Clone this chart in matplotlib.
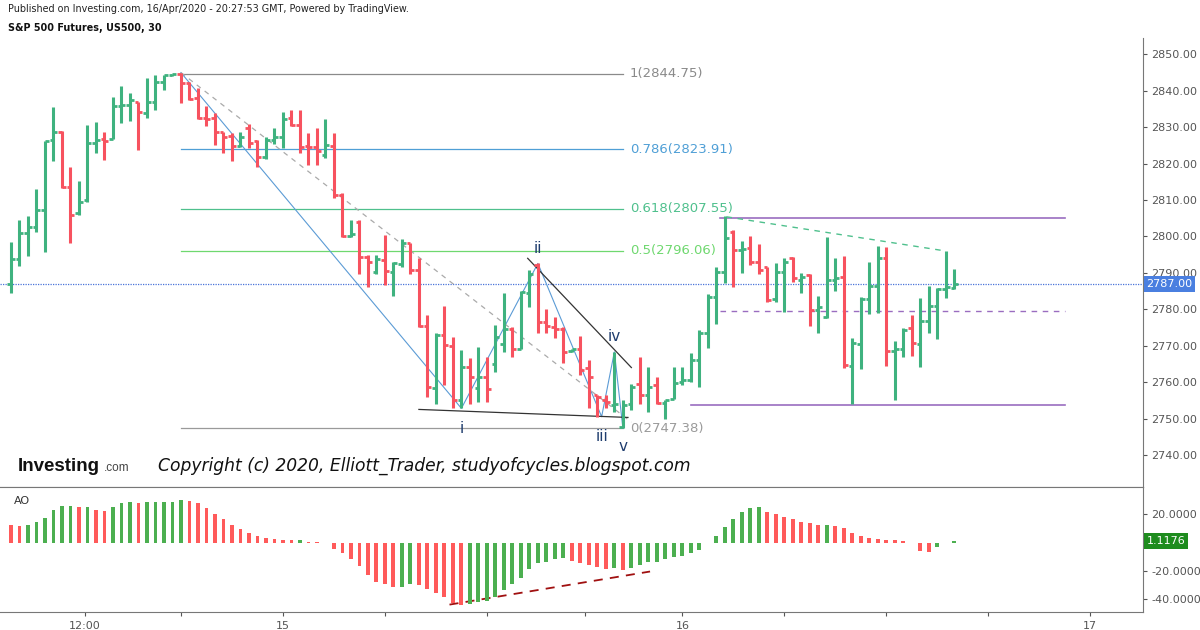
import matplotlib
matplotlib.use("Agg")
import matplotlib.pyplot as plt
import numpy as np

# ---------------- data ----------------
opens = [2787.0,2793.7,2800.9,2802.7,2807.3,2826.5,2828.8,2813.7,2806.4,2809.9,
         2825.6,2826.9,2826.7,2835.7,2836.1,2836.8,2833.8,2836.8,2842.3,2844.3,
         2844.7,2842.1,2838.0,2832.5,2832.5,2828.8,2827.6,2824.9,2829.7,2826.1,
         2821.8,2826.5,2827.4,2832.5,2830.6,2824.9,2824.5,2822.4,2824.9,2811.4,
         2800.1,2804.1,2794.4,2790.3,2793.5,2790.3,2792.4,2798.3,2790.8,2775.4,
         2758.3,2772.9,2769.9,2755.0,2764.2,2758.3,2761.5,2765.1,2770.6,2774.7,
         2769.2,2784.4,2792.2,2776.6,2775.2,2774.7,2768.6,2769.2,2763.8,2756.4,
         2755.0,2753.7,2747.7,2754.1,2759.6,2756.4,2759.2,2754.3,2755.5,2759.9,
         2760.6,2766.2,2773.4,2783.4,2790.3,2801.3,2796.3,2796.8,2793.1,2791.5,
         2782.7,2790.3,2794.0,2788.1,2789.4,2779.8,2777.8,2788.1,2789.0,2764.4,
         2770.6,2782.7,2786.4,2794.0,2768.6,2769.0,2774.8,2770.6,2776.9,2780.9,
         2785.5,2785.8]
highs = [2798.6,2804.4,2805.7,2813.0,2826.1,2835.5,2829.0,2819.0,2815.1,2830.6,
         2831.3,2828.8,2838.4,2841.4,2839.3,2836.8,2843.5,2844.4,2844.4,2844.6,
         2844.9,2842.5,2840.7,2835.7,2833.8,2828.8,2828.4,2828.8,2830.9,2826.5,
         2827.4,2829.7,2834.3,2834.8,2834.6,2828.5,2829.7,2832.2,2828.5,2812.0,
         2804.5,2804.5,2795.0,2794.9,2800.4,2793.1,2799.2,2798.3,2794.0,2778.4,
         2773.5,2780.9,2772.4,2768.8,2766.5,2769.7,2767.0,2775.7,2784.5,2775.2,
         2785.0,2790.8,2792.6,2780.2,2777.9,2775.2,2769.2,2772.6,2766.0,2756.4,
         2756.4,2768.3,2755.0,2759.6,2767.0,2764.2,2761.5,2755.0,2764.2,2764.2,
         2767.9,2774.3,2784.2,2791.7,2805.6,2801.8,2798.8,2800.1,2797.9,2791.7,
         2792.8,2794.0,2794.3,2790.1,2789.7,2783.7,2799.8,2794.0,2794.6,2772.0,
         2783.4,2793.1,2797.4,2797.2,2771.4,2775.0,2778.4,2783.0,2786.4,2785.8,
         2796.1,2791.0]
lows = [2784.4,2791.9,2794.5,2801.3,2795.8,2820.8,2813.2,2798.3,2805.9,2809.6,
        2823.0,2821.0,2826.7,2831.1,2831.6,2823.8,2832.5,2834.8,2840.1,2844.2,
        2836.6,2837.5,2832.2,2830.2,2825.1,2823.0,2820.6,2824.5,2824.2,2819.2,
        2821.2,2825.4,2824.2,2830.2,2822.9,2819.7,2819.7,2821.5,2810.5,2799.9,
        2799.9,2789.8,2786.2,2789.8,2786.7,2783.6,2791.7,2789.8,2775.2,2756.0,
        2754.1,2759.2,2752.8,2752.8,2754.1,2754.6,2754.6,2762.8,2768.3,2767.0,
        2769.2,2780.7,2773.4,2773.4,2772.0,2765.3,2768.3,2761.9,2752.8,2750.5,
        2752.8,2751.8,2747.4,2752.3,2754.1,2751.8,2754.1,2750.0,2755.5,2759.2,
        2759.9,2758.7,2769.5,2775.9,2787.3,2786.2,2789.9,2792.2,2789.7,2782.1,
        2782.1,2779.3,2787.6,2784.6,2775.4,2773.4,2777.5,2785.1,2763.8,2754.1,
        2763.5,2778.7,2779.1,2764.4,2755.1,2766.8,2767.2,2764.2,2773.6,2771.8,
        2783.0,2785.5]
closes = [2793.7,2800.9,2802.7,2807.3,2826.1,2828.8,2813.5,2805.9,2809.6,2825.6,
          2826.5,2826.3,2835.7,2836.1,2837.5,2834.3,2836.8,2842.3,2844.4,2844.5,
          2842.1,2837.7,2832.5,2832.2,2828.8,2827.4,2824.9,2827.3,2825.6,2821.9,
          2826.5,2827.4,2832.2,2830.6,2824.7,2824.5,2823.6,2825.1,2811.4,2800.1,
          2800.6,2794.4,2793.1,2793.7,2790.6,2792.6,2798.3,2790.8,2775.4,2758.7,
          2772.9,2770.2,2755.0,2764.2,2761.5,2761.5,2758.0,2772.4,2774.7,2769.2,
          2784.8,2789.8,2776.6,2775.4,2774.5,2768.4,2769.0,2763.3,2761.5,2756.0,
          2754.6,2754.1,2753.7,2758.7,2756.4,2758.7,2754.3,2755.0,2759.8,2760.6,
          2766.2,2773.4,2783.4,2790.3,2799.5,2796.3,2796.5,2793.1,2790.8,2782.6,
          2790.3,2793.1,2788.5,2789.0,2779.8,2780.5,2788.1,2788.5,2764.7,2770.8,
          2782.7,2786.4,2794.0,2768.6,2769.0,2774.3,2770.8,2776.9,2780.9,2785.5,
          2786.0,2787.0]
bar_up = [1,1,1,1,1,1,0,0,1,1,1,0,1,1,1,0,1,1,1,1,
          0,0,0,0,0,0,0,1,0,0,1,1,1,0,0,0,0,1,0,0,
          1,0,0,1,0,1,1,0,0,0,1,0,0,1,0,1,0,1,1,0,
          1,1,0,0,0,0,1,0,0,0,0,1,1,1,0,1,0,1,1,1,
          1,1,1,1,1,0,1,0,0,0,1,1,0,1,0,1,1,1,0,1,
          1,1,1,0,1,1,0,1,1,1,1,1]

ao = [12.3,11.6,12.3,14.2,17.5,22.9,25.7,25.7,24.8,24.8,22.9,22.2,24.8,27.6,28.5,27.6,
      28.5,28.5,28.5,28.5,30.2,29.2,27.6,24.1,19.8,16.5,12.3,9.3,6.5,4.6,3.4,2.5,
      2.0,1.5,1.5,0.6,0.4,-0.6,-4.3,-7.6,-11.9,-16.5,-22.9,-27.6,-29.5,-31.6,-31.1,
      -29.2,-29.9,-33.0,-35.8,-38.6,-42.8,-44.0,-43.3,-41.7,-41.0,-38.1,-33.5,-29.5,
      -24.8,-18.9,-14.2,-13.5,-11.6,-10.7,-13.0,-14.2,-15.8,-17.5,-18.9,-18.2,-19.4,
      -18.2,-15.8,-13.5,-13.5,-11.6,-10.4,-9.5,-7.6,-5.3,0.0,4.8,10.7,16.5,21.2,24.1,
      24.8,21.7,20.1,18.2,16.5,14.7,13.5,12.3,12.3,11.6,10.0,6.5,4.8,3.4,2.7,2.0,2.0,
      1.1,-0.6,-5.8,-6.5,-3.4,-0.6,1.1176]
ao_up = [0,0,1,1,1,1,1,1,0,1,0,0,1,1,1,0,1,1,1,1,1,0,0,0,0,0,0,0,0,0,0,0,0,0,1,0,0,
         0,0,0,0,0,0,0,0,0,1,1,0,0,0,0,0,0,1,1,1,1,1,1,1,1,1,1,1,1,0,0,0,0,0,1,0,1,1,
         1,1,1,1,1,1,1,1,1,1,1,1,1,1,0,0,0,0,0,0,0,1,0,0,0,0,0,0,0,0,0,0,0,0,1,1,1]

fib_levels = [2844.75, 2823.91, 2807.55, 2796.06, 2747.38]
fib_labels = ["1(2844.75)", "0.786(2823.91)", "0.618(2807.55)", "0.5(2796.06)", "0(2747.38)"]
fib_colors = ["#8a8a8a", "#4f9fd6", "#4fc08d", "#6fd86f", "#9a9a9a"]

wave_x = [20, 53, 62, 69.5, 71, 72]
wave_y = [2845.0, 2752.8, 2792.6, 2750.5, 2768.3, 2747.4]
wave_names = ["i", "ii", "iii", "iv", "v"]

price_ticks = [2740, 2750, 2760, 2770, 2780, 2790, 2800, 2810, 2820, 2830, 2840, 2850]
ao_ticks = [20, -20, -40]
x_tick_pos = [8.7, 32, 79, 127]
x_tick_labels = ["12:00", "15", "16", "17"]
minor_pos = [20, 44, 56, 67.5, 91, 103, 115]
last_price = 2787.0

GREEN = "#3fb27f"; RED = "#f7525f"
AO_G = "#4caf50"; AO_R = "#ff5a5a"

W, H = 1200, 630
fig = plt.figure(figsize=(12, 6.3), dpi=100)
def fx(px): return px / W
def fy(py): return 1 - py / H

axp = fig.add_axes([0, fy(487), fx(1143), fy(38) - fy(487)])
axa = fig.add_axes([0, fy(612), fx(1143), fy(487) - fy(612)])
xlim = (-1.29, 133.2)
for ax in (axp, axa):
    ax.set_xlim(*xlim)
    for s in ("left", "top"):
        ax.spines[s].set_visible(False)
    ax.spines["right"].set_color("#777")
    ax.spines["bottom"].set_color("#777")
    ax.yaxis.tick_right()
    ax.tick_params(axis="y", labelsize=8, colors="#555", length=3, pad=3)
axp.set_ylim(2731.2, 2854.5)
axa.set_ylim(-48.9, 39.1)

# price bars
n = len(opens)
xs = np.arange(n)
cols = [GREEN if u else RED for u in bar_up]
axp.vlines(xs, lows, highs, colors=cols, lw=2.2, zorder=3)
axp.hlines(opens, xs - 0.45, xs, colors=cols, lw=2.0, zorder=3)
axp.hlines(closes, xs, xs + 0.45, colors=cols, lw=2.0, zorder=3)

# fib lines
for lv, lb, c in zip(fib_levels, fib_labels, fib_colors):
    axp.plot([20, 72], [lv, lv], color=c, lw=0.9, zorder=1)
    axp.text(72.8, lv, lb, color=c, fontsize=9.5, va="center", ha="left")

# wave lines
axp.plot(wave_x, wave_y, color="#5b9bd5", lw=0.8, zorder=2)
axp.plot([20, 73], [2845.0, 2749.0], color="#aaaaaa", lw=0.9, ls=(0, (4, 4)), zorder=2)
axp.plot([48, 72.6], [2752.5, 2750.3], color="#333", lw=0.9, zorder=2)
axp.plot([60.8, 73], [2794.0, 2764.0], color="#333", lw=0.9, zorder=2)
wl_off = [(0, -5.5), (0, 4.2), (0, -5.5), (0, 4.2), (0, -5)]
for k, nm in enumerate(wave_names):
    xx, yy = wave_x[k + 1], wave_y[k + 1]
    axp.text(xx + wl_off[k][0], yy + wl_off[k][1], nm, color="#1f3d6e",
             fontsize=11, fontweight="medium", ha="center", va="center")

# triangle / range lines
axp.plot([83.4, 124], [2805.0, 2805.0], color="#9a6dc0", lw=1.2)
axp.plot([80, 124], [2753.8, 2753.8], color="#9a6dc0", lw=1.2)
axp.plot([83.4, 124], [2779.5, 2779.5], color="#9a6dc0", lw=1.0, ls=(0, (4, 4)))
axp.plot([84.2, 110], [2805.4, 2796.0], color="#4fc08d", lw=1.0, ls=(0, (4, 4)))

# last price line
axp.axhline(last_price, color="#4a74d9", lw=0.9, ls=(0, (1, 1)), zorder=1)
axp.set_yticks(price_ticks)
axp.set_yticklabels([f"{t:.2f}" for t in price_ticks])
axp.text(1.003, last_price, f"{last_price:.2f}", transform=axp.get_yaxis_transform(),
         color="white", fontsize=8, va="center", ha="left",
         bbox=dict(boxstyle="square,pad=0.25", fc="#4a7fe0", ec="none"))
axp.set_xticks([])

# AO
ac = [AO_G if u else AO_R for u in ao_up]
axa.bar(xs, ao, width=0.45, color=ac, zorder=3)
axa.set_yticks(ao_ticks)
axa.set_yticklabels([f"{t:.4f}" for t in ao_ticks])
axa.text(1.003, ao[-1], f"{ao[-1]:.4f}", transform=axa.get_yaxis_transform(),
         color="white", fontsize=8, va="center", ha="left",
         bbox=dict(boxstyle="square,pad=0.25", fc="#1e8c1e", ec="none"))
axa.plot([51.6, 75.2], [-43.7, -20.4], color="#a01010", lw=1.3, ls=(0, (5, 4)))
axa.text(0.012, 0.93, "AO", transform=axa.transAxes, fontsize=8, color="#333", va="top")
axa.set_xticks(x_tick_pos + minor_pos)
axa.set_xticklabels(x_tick_labels + [""] * len(minor_pos))
axa.tick_params(axis="x", labelsize=8, colors="#555", length=3)
axa.spines["top"].set_visible(True)
axa.spines["top"].set_color("#777")

# header / branding
fig.text(fx(8), fy(9), "Published on Investing.com, 16/Apr/2020 - 20:27:53 GMT, Powered by TradingView.",
         fontsize=6.9, color="#222", va="center")
fig.text(fx(8), fy(28), "S&P 500 Futures, US500, 30", fontsize=6.9, color="#111",
         fontweight="bold", va="center")
fig.text(fx(18), fy(471), "Investing", fontsize=13.5, fontweight="bold", color="#111",
         va="baseline", family="Liberation Sans")
fig.text(fx(104), fy(471), ".com", fontsize=8.5, color="#444", va="baseline",
         family="Liberation Sans")
fig.text(fx(158), fy(466), "Copyright (c) 2020, Elliott_Trader, studyofcycles.blogspot.com",
         fontsize=12.3, style="italic", color="#111", va="center")

fig.savefig("out.png", dpi=100)
